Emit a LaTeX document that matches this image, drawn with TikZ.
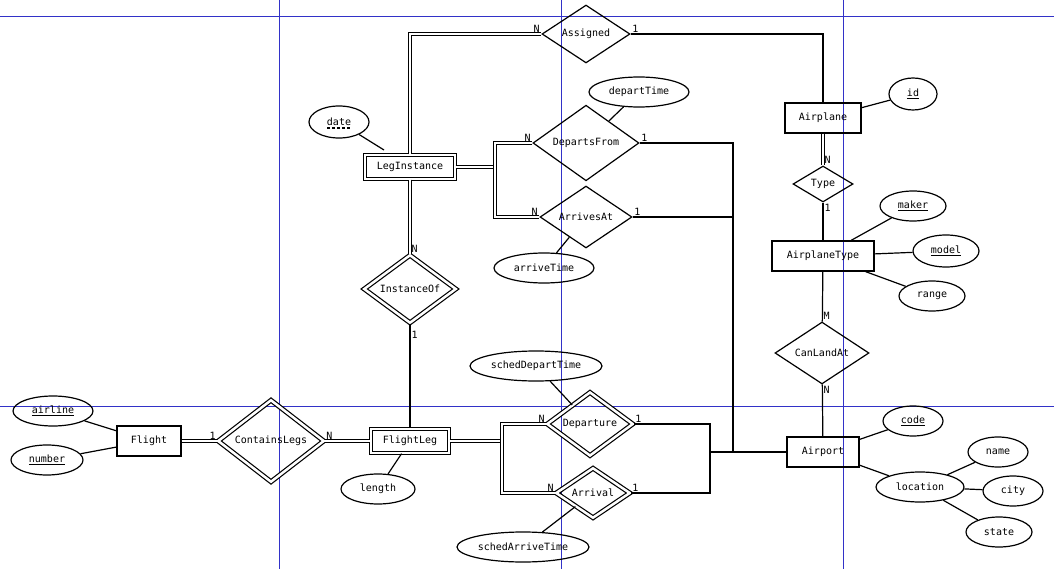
\documentclass[tikz,border=0pt]{standalone}
\usepackage{fontspec}
\newfontfamily\mono{DejaVu Sans Mono}
\usetikzlibrary{shapes.geometric}
\definecolor{guide}{RGB}{50,50,200}
\begin{document}
\begin{tikzpicture}[x=1pt,y=-1pt,
  every node/.style={font=\mono\fontsize{10}{12}\selectfont},
  ent/.style={draw,line width=1.2pt,rectangle,inner sep=0pt},
  went/.style={ent,double,double distance=2.5pt},
  rel/.style={draw,line width=1.2pt,diamond,inner sep=0pt},
  wrel/.style={rel,double,double distance=2.5pt},
  att/.style={draw,line width=1.2pt,ellipse,inner sep=0pt},
  ln/.style={line width=1.2pt},
  dl/.style={line width=1.1pt,double,double distance=2pt},
  card/.style={inner sep=1.5pt},
  grid/.style={guide,line width=0.7pt}]
\useasboundingbox (0,0) rectangle (1054,569);
\fill[white] (0,0) rectangle (1054,569);
% guide lines
\draw[grid] (279,0) -- (279,569);
\draw[grid] (561,0) -- (561,569);
\draw[grid] (843,0) -- (843,569);
\draw[grid] (0,16) -- (1054,16);
\draw[grid] (0,406) -- (1054,406);

% entities
\node[ent,minimum width=76,minimum height=30] (airplane) at (823,118) {Airplane};
\node[ent,minimum width=102,minimum height=30] (atype) at (823,256) {AirplaneType};
\node[ent,minimum width=72,minimum height=30] (airport) at (823,452) {Airport};
\node[ent,minimum width=64,minimum height=30] (flight) at (149,441) {Flight};
\node[went,minimum width=90,minimum height=24] (leginst) at (410,167) {LegInstance};
\node[went,minimum width=78,minimum height=24] (fleg) at (410,441) {FlightLeg};

% relationships
\node[rel,minimum width=88,minimum height=52] (assigned) at (586,34) {Assigned};
\node[rel,minimum width=106,minimum height=64] (departs) at (586,143) {DepartsFrom};
\node[rel,minimum width=92,minimum height=56] (arrives) at (586,217) {ArrivesAt};
\node[rel,minimum width=60,minimum height=36] (type) at (823,184) {Type};
\node[rel,minimum width=94,minimum height=56] (canland) at (822,353) {CanLandAt};
\node[wrel,minimum width=92,minimum height=52] (instof) at (410,289) {InstanceOf};
\node[wrel,minimum width=106,minimum height=60] (contains) at (271,441) {ContainsLegs};
\node[wrel,minimum width=86,minimum height=50] (departure) at (590,424) {Departure};
\node[wrel,minimum width=74,minimum height=42] (arrival) at (593,493) {Arrival};

% attributes
\node[att,minimum width=48,minimum height=32] (id) at (913,94) {\underline{id}};
\node[att,minimum width=100,minimum height=30] (deptime) at (639,92) {departTime};
\node[att,minimum width=60,minimum height=32] (date) at (339,122) {date};
\draw[line width=1.2pt,dash pattern=on 3pt off 2pt] ([xshift=-12pt,yshift=-6pt]date.center) -- ([xshift=12pt,yshift=-6pt]date.center);
\node[att,minimum width=100,minimum height=30] (arrtime) at (544,268) {arriveTime};
\node[att,minimum width=66,minimum height=30] (maker) at (913,206) {\underline{maker}};
\node[att,minimum width=66,minimum height=32] (model) at (946,251) {\underline{model}};
\node[att,minimum width=66,minimum height=30] (range) at (932,296) {range};
\node[att,minimum width=132,minimum height=30] (sdep) at (536,366) {schedDepartTime};
\node[att,minimum width=60,minimum height=30] (code) at (913,421) {\underline{code}};
\node[att,minimum width=80,minimum height=30] (airline) at (53,411) {\underline{airline}};
\node[att,minimum width=72,minimum height=30] (number) at (47,460) {\underline{number}};
\node[att,minimum width=60,minimum height=30] (name) at (998,452) {name};
\node[att,minimum width=88,minimum height=30] (location) at (920,487) {location};
\node[att,minimum width=60,minimum height=30] (city) at (1013,491) {city};
\node[att,minimum width=66,minimum height=30] (state) at (999,532) {state};
\node[att,minimum width=74,minimum height=30] (length) at (378,489) {length};
\node[att,minimum width=132,minimum height=30] (sarr) at (523,547) {schedArriveTime};

% attribute links
\coordinate (dt) at (384,150);
\draw[ln] (id) -- (airplane);
\draw[ln] (deptime) -- (departs);
\draw[ln] (date) -- (dt);
\draw[ln] (arrtime) -- (arrives);
\draw[ln] (maker) -- (atype);
\draw[ln] (model) -- (atype);
\draw[ln] (range) -- (atype);
\draw[ln] (sdep) -- (departure);
\draw[ln] (code) -- (airport);
\draw[ln] (location) -- (airport);
\draw[ln] (name) -- (location);
\draw[ln] (city) -- (location);
\draw[ln] (state) -- (location);
\draw[ln] (airline) -- (flight);
\draw[ln] (number) -- (flight);
\draw[ln] (length) -- (fleg);
\draw[ln] (sarr) -- (arrival);

% relationship links
\coordinate (c1) at (410,34);
\draw[dl] (leginst.north) -- (c1) -- (assigned.west);
\node[card,anchor=south east] at (assigned.west) {N};
\coordinate (c2) at (823,34);
\draw[ln] (assigned.east) -- (c2) -- (airplane.north);
\node[card,anchor=south west] at (assigned.east) {1};

\draw[dl] (airplane) -- (type);
\node[card,anchor=south west] at (type.north) {N};
\draw[ln] (type) -- (atype);
\node[card,anchor=north west] at (type.south) {1};
\draw[ln] (atype) -- (canland);
\node[card,anchor=south west] at (canland.north) {M};
\draw[ln] (canland) -- (airport);
\node[card,anchor=north west] at (canland.south) {N};

\coordinate (s1) at (495,167);
\coordinate (s1a) at (495,143);
\coordinate (s1b) at (495,217);
\draw[dl] (leginst.east) -- (s1);
\draw[dl] (departs.west) -- (s1a) -- (s1b) -- (arrives.west);
\node[card,anchor=south east] at (departs.west) {N};
\node[card,anchor=south east] at (arrives.west) {N};

\coordinate (r1) at (733,143);
\coordinate (r2) at (733,217);
\coordinate (r3) at (733,452);
\coordinate (r4) at (710,452);
\draw[ln] (departs.east) -- (r1) -- (r3);
\draw[ln] (arrives.east) -- (r2);
\draw[ln] (airport.west) -- (r4);
\node[card,anchor=south west] at (departs.east) {1};
\node[card,anchor=south west] at (arrives.east) {1};

\coordinate (d1) at (710,424);
\coordinate (d2) at (710,493);
\draw[ln] (departure.east) -- (d1) -- (d2) -- (arrival.east);
\node[card,anchor=south west] at (departure.east) {1};
\node[card,anchor=south west] at (arrival.east) {1};

\draw[dl] (leginst.south) -- (instof.north);
\node[card,anchor=south west] at (instof.north) {N};
\draw[ln] (instof.south) -- (fleg.north);
\node[card,anchor=north west,yshift=-6pt] at (instof.south) {1};

\draw[dl] (flight.east) -- (contains.west);
\node[card,anchor=south east] at (contains.west) {1};
\draw[dl] (contains.east) -- (fleg.west);
\node[card,anchor=south west] at (contains.east) {N};

\coordinate (s2) at (502,441);
\coordinate (s2a) at (502,424);
\coordinate (s2b) at (502,493);
\draw[dl] (fleg.east) -- (s2);
\draw[dl] (departure.west) -- (s2a) -- (s2b) -- (arrival.west);
\node[card,anchor=south east] at (departure.west) {N};
\node[card,anchor=south east] at (arrival.west) {N};
\end{tikzpicture}
\end{document}
